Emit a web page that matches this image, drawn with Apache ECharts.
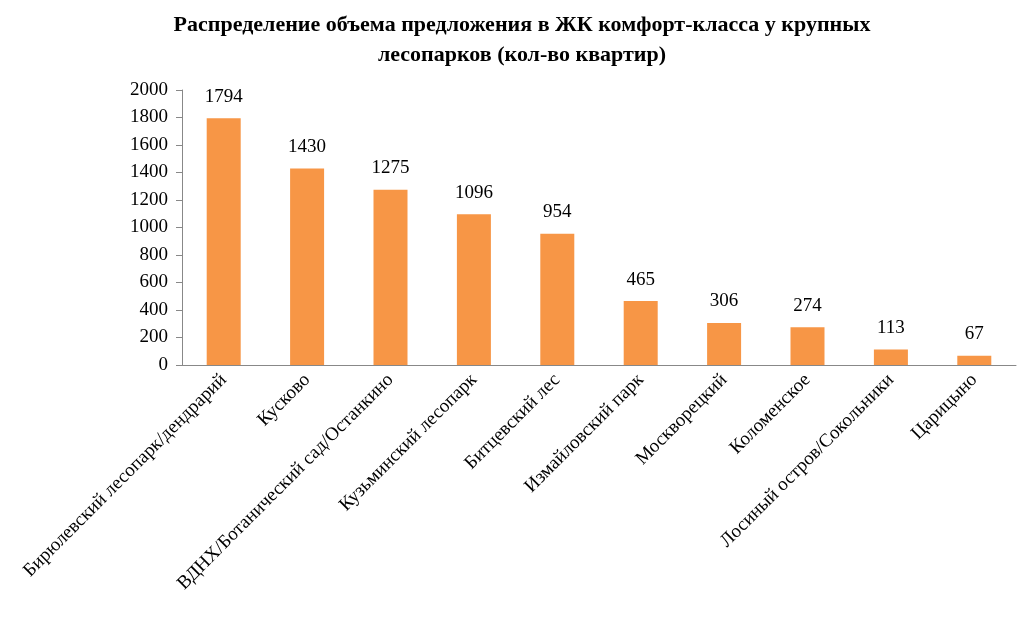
<!DOCTYPE html>
<html>
<head>
<meta charset="utf-8">
<script src="https://cdn.jsdelivr.net/npm/echarts@6/dist/echarts.min.js"></script>
<style>body{margin:0;background:#fff}#main{width:1031px;height:622px}</style>
</head>
<body>
<div id="main"></div>
<script>
// categories and values
var categories = ['Бирюлевский лесопарк/дендрарий', 'Кусково', 'ВДНХ/Ботанический сад/Останкино',
    'Кузьминский лесопарк', 'Битцевский лес', 'Измайловский парк', 'Москворецкий',
    'Коломенское', 'Лосиный остров/Сокольники', 'Царицыно'];
var flats = [1794, 1430, 1275, 1096, 954, 465, 306, 274, 113, 67];

var myChart = echarts.init(document.getElementById('main'));
var font = '"Liberation Serif", "DejaVu Serif", serif';
var option = {
    textStyle: {fontFamily: font},
    title: {
        text: 'Распределение объема предложения в ЖК комфорт-класса у крупных\nлесопарков (кол-во квартир)',
        left: 517, top: 5, textAlign: 'center',
        textStyle: {fontFamily: font, fontSize: 22, fontWeight: 'bold', color: '#000', lineHeight: 30}
    },
    grid: {left: 182, right: 15, top: 90, bottom: 257},
    xAxis: {
        type: 'category',
        data: categories,
        axisLine: {lineStyle: {color: '#888'}},
        axisTick: {show: false},
        axisLabel: {rotate: 45, interval: 0, color: '#000', fontSize: 19, fontFamily: font, margin: 12}
    },
    yAxis: {
        type: 'value',
        min: 0, max: 2000, interval: 200,
        axisLine: {show: true, lineStyle: {color: '#888'}},
        axisTick: {show: true, length: 6, lineStyle: {color: '#888'}},
        splitLine: {show: false},
        axisLabel: {color: '#000', fontSize: 19, fontFamily: font, margin: 14, formatter: function (v) { return String(v); }}
    },
    series: [{
        type: 'bar',
        data: flats,
        barWidth: 34,
        itemStyle: {color: '#F79646'},
        label: {show: true, position: 'top', distance: 12, color: '#000', fontSize: 19, fontFamily: font}
    }]
};
myChart.setOption(option);
</script>
</body>
</html>
